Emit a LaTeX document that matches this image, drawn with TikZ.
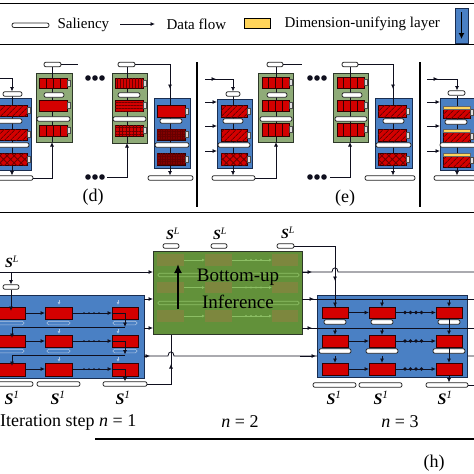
\documentclass[tikz,border=0pt]{standalone}
\usepackage{fontspec}
\setmainfont{Liberation Serif}
\usetikzlibrary{arrows.meta,patterns.meta}
\definecolor{bfill}{RGB}{74,128,196}
\definecolor{bdraw}{RGB}{25,45,80}
\definecolor{gfill}{RGB}{143,171,120}
\definecolor{gdraw}{RGB}{45,55,40}
\definecolor{gtwo}{RGB}{98,145,58}
\definecolor{gin}{RGB}{125,135,62}
\definecolor{gfaint}{RGB}{140,190,100}
\definecolor{rfill}{RGB}{212,0,0}
\definecolor{rdark}{RGB}{110,0,0}
\definecolor{rdraw}{RGB}{50,0,0}
\definecolor{yfill}{RGB}{255,212,90}
\definecolor{lk}{RGB}{15,15,30}
\tikzset{
 flow/.style={draw=lk, line width=0.8pt, -{Latex[length=4.5pt,width=4pt]}},
 ln/.style={draw=lk, line width=0.8pt},
 salst/.style={draw=black!85, fill=white, line width=0.8pt, rounded corners=2pt},
 faintsal/.style={draw=white!55!bfill, line width=0.6pt, rounded corners=1.5pt},
 bbox/.style={draw=bdraw, fill=bfill, line width=0.8pt},
 gbox/.style={draw=gdraw, fill=gfill, line width=0.8pt},
 rb/.style={draw=rdraw, fill=rfill, line width=0.6pt},
 tipst/.style={draw=black!70, fill=gray!25, line width=0.4pt},
 hne/.style={postaction={pattern={Lines[angle=45,distance=4pt,line width=0.9pt]}, pattern color=rdark}},
 hx/.style={postaction={pattern={Hatch[angle=45,distance=5pt,line width=0.9pt]}, pattern color=rdark}},
 hv/.style={postaction={pattern={Lines[angle=90,distance=3pt,line width=0.8pt]}, pattern color=rdark}},
 hh/.style={postaction={pattern={Lines[angle=0,distance=3pt,line width=0.8pt]}, pattern color=rdark}},
 hg/.style={postaction={pattern={Hatch[angle=0,distance=3.5pt,line width=0.7pt]}, pattern color=rdark}},
 hd/.style={fill=rdark!80!rfill, postaction={pattern={Hatch[angle=0,distance=2.5pt,line width=0.6pt]}, pattern color=black!60!red}},
 lab/.style={font=\fontsize{15}{18}\selectfont},
 capt/.style={font=\fontsize{18}{21}\selectfont},
 slab/.style={font=\fontsize{14}{16}\selectfont},
 sone/.style={font=\fontsize{16}{18}\selectfont},
}
\newcommand{\bat}[5][]{\draw[rb,#1] (#2,#3) rectangle (#4,#5); \draw[tipst] (#4,{(#3+#5)/2-3}) rectangle ({#4+3},{(#3+#5)/2+3});}
\newcommand{\segs}[4]{\foreach \f in {0.25,0.5,0.75}{\draw[draw=rdraw,line width=0.6pt] ({#1+\f*(#3-#1)},#2) -- ({#1+\f*(#3-#1)},#4);}}
\newcommand{\sal}[3]{\draw[salst] (#1,{#3-2.3}) rectangle (#2,{#3+2.3});}
\newcommand{\tdots}[2]{\foreach \dx in {0,7,14}{\fill[lk] ({#1+\dx},{#2}) circle (2.8pt);}}
\newcommand{\sdots}[2]{\foreach \dx in {0,5.5,11,16.5}{\fill[lk] ({#1+\dx},{#2}) circle (1.8pt);}}
\begin{document}
\begin{tikzpicture}[x=1pt,y=-1pt]
\useasboundingbox[fill=white] (0,0) rectangle (474,474);
% ---------- legend ----------
\draw[line width=1pt] (0,3) -- (474,3);
\draw[line width=1pt] (0,44) -- (474,44);
\draw[salst] (12,23) rectangle (49,27.5);
\node[lab,anchor=west] (tsal) at (54,25) {Saliency};
\draw[flow] (120,24) -- (155,24);
\node[lab,anchor=west] (tflow) at (163,24) {Data flow};
\draw[draw=black,fill=yfill,line width=0.8pt] (244,18) rectangle (270,28);
\node[lab,anchor=west] (tdim) at (281,24) {Dimension-unifying layer};
\draw[bbox] (455,8) rectangle (468,43);
\draw[line width=1.5pt,-{Latex[length=6pt,width=6pt]}] (461.5,12) -- (461.5,39);
% ---------- panel (d) ----------
\draw[bbox] (-2,98) rectangle (31,170);
\draw[ln] (12,96) -- (12,170);
\bat[hne]{-2}{105}{27}{116}
\bat[hne]{-2}{129}{27}{140}
\bat[hx]{-2}{153}{27}{165}
\sal{-2}{22}{121}
\sal{-2}{29}{145}
\draw[flow] (0,78) -| (12,91.5);
\sal{3}{22}{94}
\draw[flow] (12,170) -- (12,175.5);
\sal{-2}{33}{178}
\draw[flow] (33,178) -| (52,142);
% G1
\draw[gbox] (36,73) rectangle (72,142);
\draw[ln] (52,142) -- (52,67);
\bat{39}{78}{67}{88}\segs{39}{78}{67}{88}
\bat{39}{100}{67}{111}
\bat{39}{125}{67}{136}\segs{39}{125}{67}{136}
\sal{44}{64}{95}
\sal{37}{70}{119}
\sal{44}{61}{64.5}
\draw[ln] (61,64.5) -- (78,64.5);
\tdots{88}{78}
\tdots{88}{177}
% G2
\draw[gbox] (112,73) rectangle (147,143);
\draw[ln] (127,143) -- (127,67);
\bat[hv]{115}{78}{143}{88}
\bat[hh]{115}{100}{143}{111}
\bat[hg]{115}{125}{143}{136}
\sal{118}{140}{95}
\sal{113}{146}{119}
\sal{118}{135}{64.5}
\draw[ln] (135,64.5) -| (170,98);
\draw[flow] (170,80) -- (170,89);
\draw[flow] (107,177) -| (127,143);
% blue B
\draw[bbox] (154,98) rectangle (190,168);
\draw[ln] (170,98) -- (170,168);
\bat{157}{105}{185}{117}
\bat[hd]{157}{129}{185}{140}
\bat[hd]{157}{153}{185}{165}
\sal{160}{182}{121}
\sal{155}{189}{145}
\draw[flow] (170,168) -- (170,175.5);
\sal{148}{193}{178}
\node[capt] (labd) at (93,197) {(d)};
\draw[line width=1.2pt] (197,62) -- (197,207);
% ---------- panel (e) ----------
\draw[flow] (205,79) -| (233,91.5);
\draw[flow] (205,79) -- (216,79);
\foreach \yy in {102,126,151}{\draw[flow] (205,\yy) -- (217,\yy);}
\draw[bbox] (217,99) rectangle (252,168);
\draw[ln] (233,96) -- (233,168);
\bat[hne]{221}{105}{247}{117}
\bat[hne]{221}{129}{247}{141}
\bat[hx]{221}{153}{247}{165}
\sal{223}{243}{121}
\sal{218}{250}{145}
\sal{226}{240}{94}
\draw[flow] (233,168) -- (233,175.5);
\sal{212}{255}{178}
\draw[flow] (255,178) -| (276,142);
% G3
\draw[gbox] (258,73) rectangle (293,142);
\draw[ln] (276,142) -- (276,67);
\bat{262}{77}{289}{88}\segs{262}{77}{289}{88}
\bat{262}{100}{289}{111}\segs{262}{100}{289}{111}
\bat{262}{123}{289}{136}\segs{262}{123}{289}{136}
\sal{267}{287}{95}
\sal{260}{292}{119}
\sal{267}{283}{64.5}
\draw[ln] (283,64.5) -- (302,64.5);
\tdots{310}{78}
\tdots{310}{177}
\draw[flow] (330,177) -| (350,142);
% G4
\draw[gbox] (333,73) rectangle (368,142);
\draw[ln] (350,142) -- (350,67);
\bat{337}{77}{364}{88}\segs{337}{77}{364}{88}
\bat{337}{100}{364}{111}\segs{337}{100}{364}{111}
\bat{337}{123}{364}{136}\segs{337}{123}{364}{136}
\sal{342}{362}{95}
\sal{335}{367}{119}
\sal{342}{358}{64.5}
\draw[ln] (358,64.5) -| (393,98);
\draw[flow] (393,80) -- (393,89);
% blue D
\draw[bbox] (375,98) rectangle (412,168);
\draw[ln] (393,98) -- (393,168);
\bat[hne]{378}{105}{406}{117}
\bat[hne]{378}{129}{406}{141}
\bat[hx]{378}{153}{406}{165}
\sal{383}{404}{121}
\sal{376}{411}{145}
\draw[flow] (393,168) -- (393,175.5);
\sal{365}{415}{178}
\node[capt] (labe) at (345,198) {(e)};
\draw[line width=1.2pt] (420,62) -- (420,207);
% ---------- partial panel ----------
\draw[flow] (427,79) -| (457,90.5);
\draw[flow] (427,79) -- (438,79);
\foreach \yy in {102,126,151}{\draw[flow] (427,\yy) -- (440,\yy);}
\draw[bbox] (440,98) rectangle (478,170);
\draw[ln] (457,96) -- (457,170);
\foreach \ya/\yb in {107/118,130/142,154/167}{
  \bat[hne]{443}{\ya}{470}{\yb}
  \draw[draw=black!60,fill=yfill,line width=0.3pt] (443,{\ya-1}) rectangle (470,{\ya+1.8});}
\sal{448}{465}{93}
\sal{445}{467}{122}
\sal{440}{478}{145}
\draw[flow] (457,170) -- (457,175.5);
\sal{434}{478}{178}
% separator
\draw[line width=1.6pt] (0,212.5) -- (474,212.5);
% ---------- panel (h) ----------
\node[slab] (sl0) at (12,262) {\textbf{\textit{S}}\textsuperscript{\textit{L}}};
\draw[flow] (0,272) -- (153,272);
\draw[flow] (11,272) -- (11,284.5);
\sal{3}{19}{287}
% left blue box
\draw[bbox] (-2,295) rectangle (144,378);
\foreach \ya in {323,351}{
  \draw[faintsal] (-2,{\ya-1.8}) rectangle (24,{\ya+1.8});
  \draw[faintsal] (47,{\ya-1.8}) rectangle (70,{\ya+1.8});
  \draw[faintsal] (113,{\ya-1.8}) rectangle (137,{\ya+1.8});}
\foreach \ya in {300,329,357}{
  \draw[draw=white!55!bfill,line width=0.6pt,-{Latex[length=3pt,width=3pt]}] (59,\ya) -- (59,{\ya+5});
  \draw[draw=white!55!bfill,line width=0.6pt,-{Latex[length=3pt,width=3pt]}] (118,\ya) -- (118,{\ya+5});}
\foreach \ya/\yb in {307/319,335/347,363/376}{
  \draw[rb] (-2,\ya) rectangle (25,\yb);
  \draw[rb] (45,\ya) rectangle (72,\yb);
  \draw[rb] (112,\ya) rectangle (138,\yb);}
\draw[flow] (11,289.5) -- (11,311);
\foreach \yr in {313,341,369}{
  \draw[flow] (25,\yr) -- (45,\yr);
  \draw[flow] (72,\yr) -- (112,\yr);
  \foreach \dx in {84,89,94,99}{\fill[lk] (\dx,\yr) circle (1pt);}}
\draw[flow] (112,313) -| (125,327);
\draw[flow] (125,327.5) -| (12,338);
\draw[flow] (112,341) -| (125,354.5);
\draw[flow] (125,355) -| (12,366);
\draw[flow] (112,369) -| (125,381.5);
\draw[flow] (144,299) -- (153,299);
\draw[flow] (144,328) -- (153,328);
\sal{-2}{33}{384}
\sal{37}{80}{384}
\sal{103}{147}{384}
\node[sone] (s1a) at (12,398) {\textbf{\textit{S}}\textsuperscript{\textit{1}}};
\node[sone] (s1b) at (58,398) {\textbf{\textit{S}}\textsuperscript{\textit{1}}};
\node[sone] (s1c) at (123,398) {\textbf{\textit{S}}\textsuperscript{\textit{1}}};
% crossing lines
\draw[ln] (147,384) -| (171,334);
\draw[flow] (171,374) -- (171,364);
\draw[ln] (144,356) -- (168,356) .. controls (168,350.5) and (174,350.5) .. (174,356) -- (474,356);
\draw[flow] (144,356) -- (150,356);
% green bottom-up box
\draw[draw=gdraw,fill=gtwo,line width=0.9pt] (153,251) rectangle (302,334);
\foreach \ya in {275,303}{\draw[draw=gfaint,line width=0.7pt,rounded corners=1.5pt] (158,{\ya-1.8}) rectangle (299,{\ya+1.8});}
\foreach \ya/\yb in {254/266,282/293,310/322}{
  \pgfmathsetmacro{\ym}{(\ya+\yb)/2}
  \fill[gin] (157,\ya) rectangle (184,\yb);
  \fill[gin] (205,\ya) rectangle (232,\yb);
  \fill[gin] (272,\ya) rectangle (298,\yb);
  \draw[draw=gfaint,line width=0.6pt,-{Latex[length=3pt,width=3pt]}] (184,\ym) -- (205,\ym);
  \draw[draw=gfaint,line width=0.6pt,-{Latex[length=3pt,width=3pt]}] (232,\ym) -- (272,\ym);
  \foreach \dx in {246,251,256,261}{\fill[gfaint] (\dx,\ym) circle (1.2pt);}}
\draw[line width=2.2pt,-{Latex[length=9pt,width=8pt]}] (178,309) -- (178,264);
\node[font=\fontsize{19}{22}\selectfont] (bu1) at (238,277) {Bottom-up};
\node[font=\fontsize{19}{22}\selectfont] (bu2) at (238,302) {Inference};
\sal{163}{179}{246}
\sal{211}{227}{246}
\sal{277}{294}{246}
\node[slab] (sl1) at (173,234) {\textbf{\textit{S}}\textsuperscript{\textit{L}}};
\node[slab] (sl2) at (220,234) {\textbf{\textit{S}}\textsuperscript{\textit{L}}};
\node[slab] (sl3) at (288,233) {\textbf{\textit{S}}\textsuperscript{\textit{L}}};
% right blue box
\draw[bbox] (317,295) rectangle (467,377);
\foreach \ya/\yb in {307/318,335/347,363/375}{
  \pgfmathsetmacro{\ym}{(\ya+\yb)/2}
  \draw[rb] (322,\ya) rectangle (348,\yb);
  \draw[rb] (369,\ya) rectangle (395,\yb);
  \draw[rb] (436,\ya) rectangle (462,\yb);
  \draw[flow] (348,\ym) -- (369,\ym);
  \draw[flow] (395,\ym) -- (436,\ym);
  \sdots{405}{\ym}}
\sal{324}{346}{322}
\sal{371}{393}{322}
\sal{438}{460}{322}
\sal{319}{351}{351}
\sal{366}{398}{351}
\sal{433}{465}{351}
\draw[ln] (294,246) -| (335,307);
\draw[flow] (335,274) -- (335,281);
\draw[flow] (335,296) -- (335,307);
\draw[ln] (302,272) -- (332,272) .. controls (332,266.5) and (338,266.5) .. (338,272) -- (474,272);
\draw[flow] (302,272) -- (312,272);
\draw[ln] (302,299) -- (474,299);
\draw[flow] (302,299) -- (314,299);
\draw[ln] (302,328) -- (474,328);
\draw[flow] (302,328) -- (312,328);
\draw[flow] (300,356) -- (316,356);
\draw[flow] (382,299) -- (382,307);
\draw[flow] (449,299) -- (449,307);
\draw[flow] (335,328) -- (335,335);
\draw[flow] (382,328) -- (382,335);
\draw[flow] (449,318) -- (449,335);
\draw[flow] (335,356) -- (335,363);
\draw[flow] (382,356) -- (382,363);
\draw[flow] (449,347) -- (449,363);
\draw[flow] (449,375) -- (449,382.5);
\sal{313}{356}{385}
\sal{359}{402}{385}
\sal{426}{468}{385}
\draw[ln] (468,385) -- (474,385);
\node[sone] (s1d) at (334,398) {\textbf{\textit{S}}\textsuperscript{\textit{1}}};
\node[sone] (s1e) at (381,398) {\textbf{\textit{S}}\textsuperscript{\textit{1}}};
\node[sone] (s1f) at (445,398) {\textbf{\textit{S}}\textsuperscript{\textit{1}}};
% captions
\node[capt,anchor=west,inner sep=0pt] (it1) at (0,422) {Iteration step \textit{n} = 1};
\node[capt] (it2) at (240,422) {\textit{n} = 2};
\node[capt] (it3) at (400,422) {\textit{n} = 3};
\draw[line width=1.2pt] (95,439) -- (474,439);
\node[capt] (labh) at (434,463) {(h)};
\end{tikzpicture}
\end{document}
